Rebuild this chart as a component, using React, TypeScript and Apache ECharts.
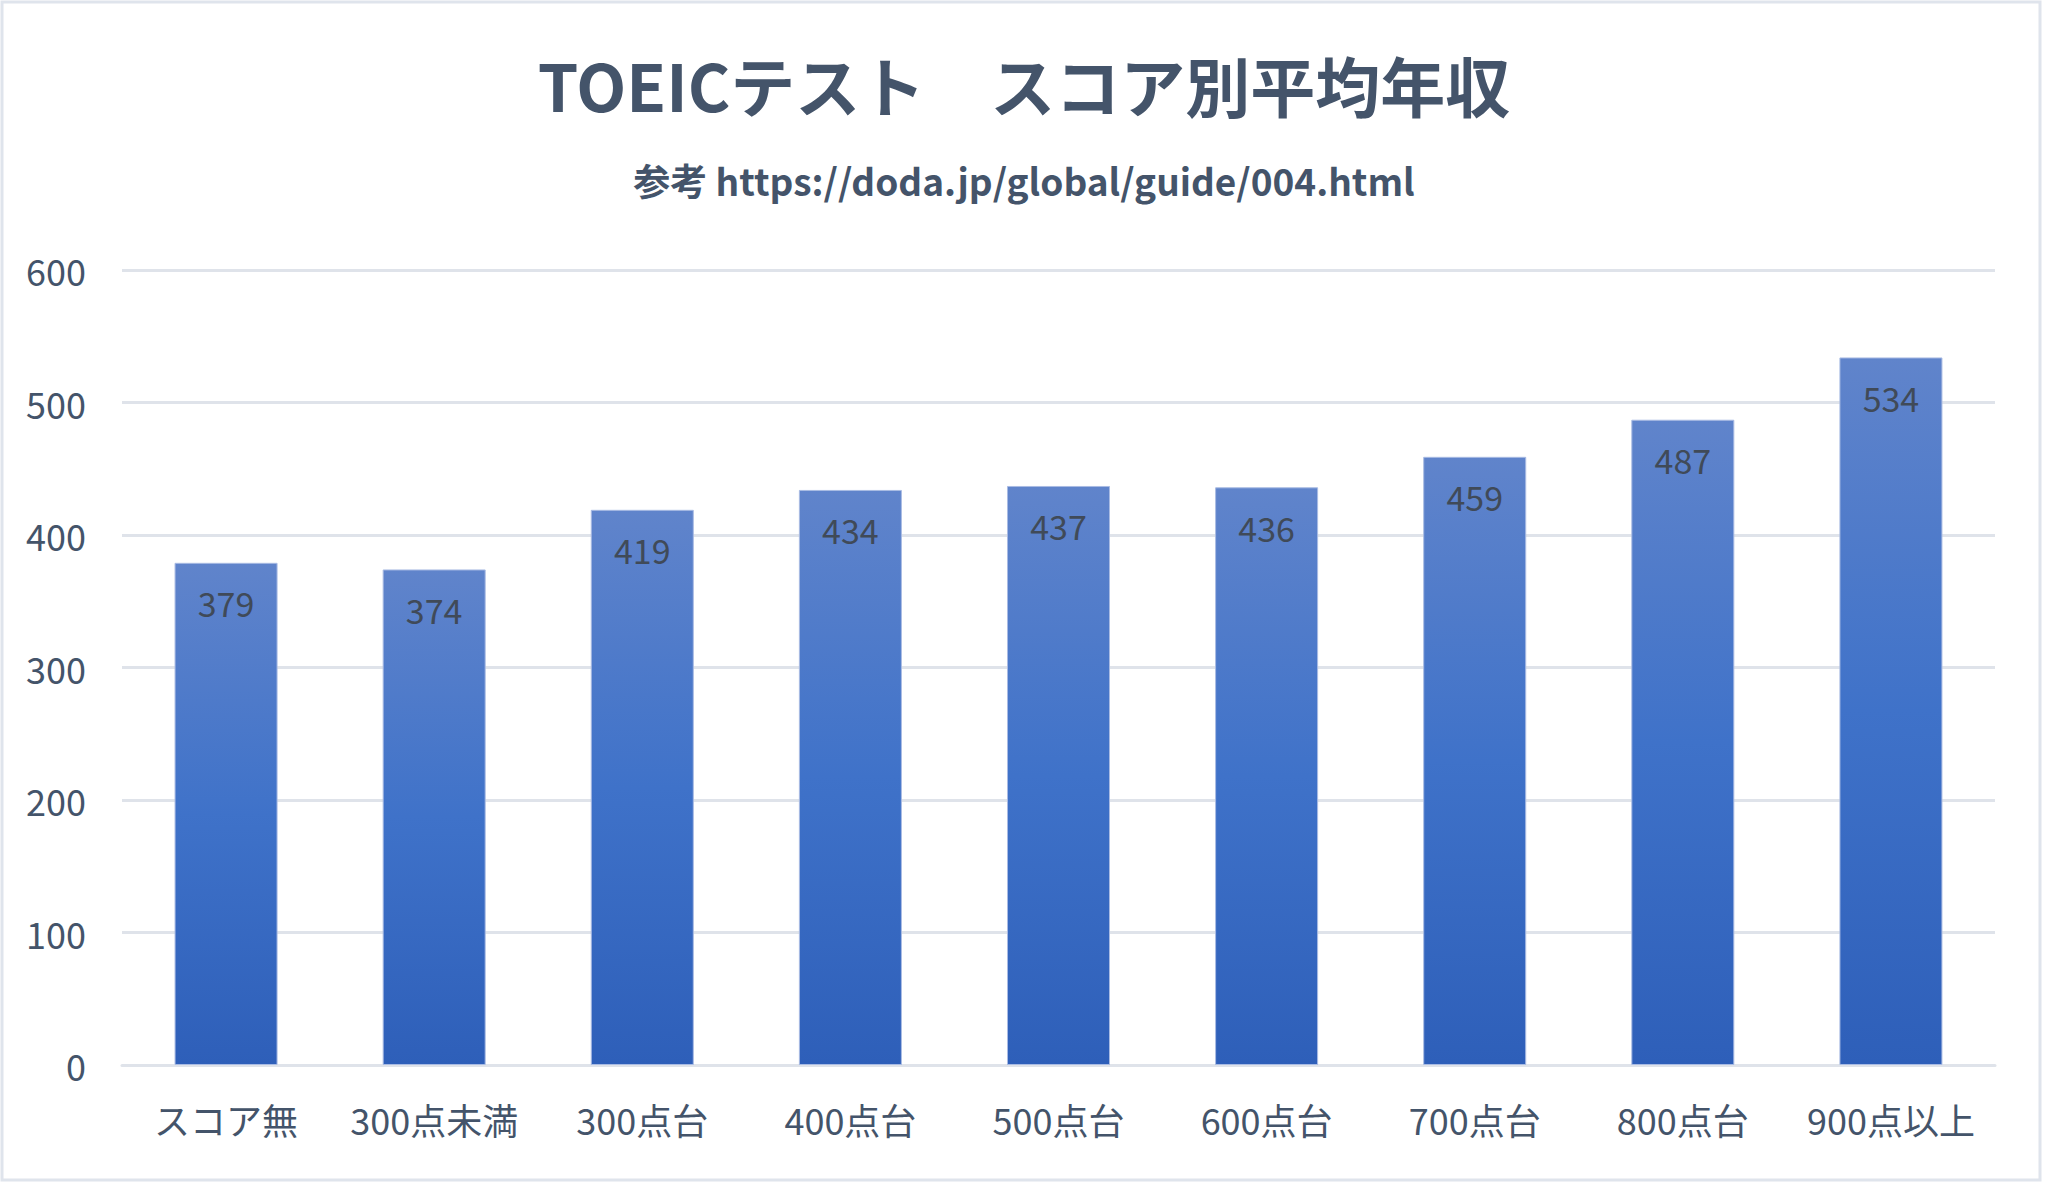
import React, { useEffect, useRef } from "react";
import * as echarts from "echarts";

const titleText = "TOEICテスト　スコア別平均年収";
const subtitleText = "参考 https://doda.jp/global/guide/004.html";
const categories = ["スコア無", "300点未満", "300点台", "400点台", "500点台", "600点台", "700点台", "800点台", "900点以上"];
const salaries = [379, 374, 419, 434, 437, 436, 459, 487, 534];
const yTicks = { min: 0, max: 600, interval: 100 };

const FONT = '"Noto Sans CJK JP", "Noto Sans", sans-serif';
const TEXT = "#44546a";

export default function App() {
  const ref = useRef<HTMLDivElement>(null);
  useEffect(() => {
    document.body.style.margin = "0";
    const chart = echarts.init(ref.current!, null, { renderer: "svg" });
    chart.setOption({
      animation: false,
      backgroundColor: "#ffffff",
      textStyle: { fontFamily: FONT },
      title: [
        {
          text: titleText,
          left: "center",
          top: 46,
          textStyle: { fontFamily: FONT, fontSize: 65, fontWeight: "bold", color: TEXT },
        },
        {
          text: subtitleText,
          left: "center",
          top: 156,
          textStyle: { fontFamily: FONT, fontSize: 37, fontWeight: "bold", color: TEXT },
        },
      ],
      graphic: [
        {
          type: "rect",
          shape: { x: 2, y: 2, width: 2038, height: 1178 },
          style: { fill: "none", stroke: "#dfe4ec", lineWidth: 3 },
          silent: true,
        },
      ],
      grid: { left: 122, right: 53, top: 270, bottom: 123 },
      xAxis: {
        type: "category",
        data: categories,
        axisLine: { show: true, lineStyle: { color: "#dfe3ea", width: 3 } },
        axisTick: { show: false },
        axisLabel: { color: TEXT, fontSize: 36, fontFamily: FONT, margin: 36, interval: 0 },
      },
      yAxis: {
        type: "value",
        min: yTicks.min,
        max: yTicks.max,
        interval: yTicks.interval,
        axisLine: { show: false },
        axisTick: { show: false },
        splitLine: { lineStyle: { color: "#dfe3ea", width: 3 } },
        axisLabel: { color: TEXT, fontSize: 36, fontFamily: FONT, margin: 36, padding: [0, 0, 9, 0] },
      },
      series: [
        {
          type: "bar",
          data: salaries,
          barWidth: "49.5%",
          itemStyle: {
            color: new echarts.graphic.LinearGradient(0, 0, 0, 1, [
              { offset: 0, color: "#6084cb" },
              { offset: 0.5, color: "#3f72c9" },
              { offset: 1, color: "#2e5fb9" },
            ]),
            borderColor: "#a9bbe3",
            borderWidth: 1,
          },
          label: {
            show: true,
            position: "insideTop",
            distance: 23,
            color: "#404a58",
            fontSize: 34,
            fontFamily: FONT,
          },
        },
      ],
    });
    return () => chart.dispose();
  }, []);
  return <div ref={ref} style={{ width: 2048, height: 1188 }} />;
}
